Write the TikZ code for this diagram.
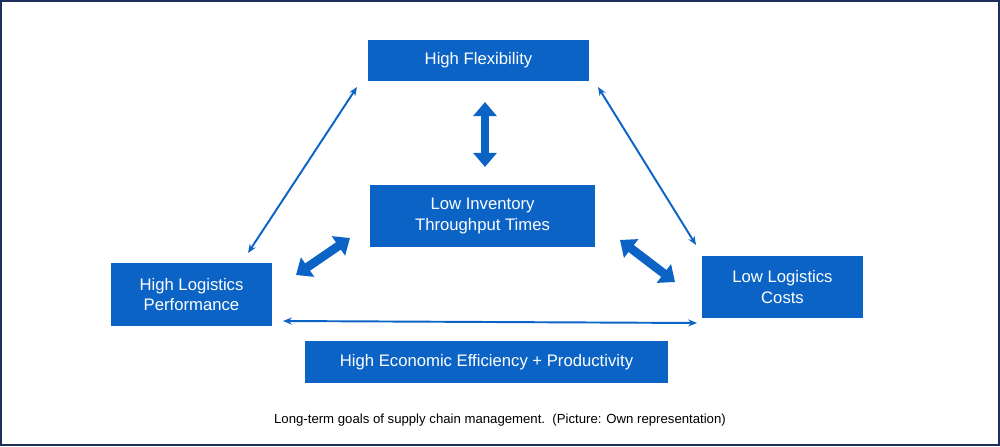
\documentclass[tikz,border=0pt]{standalone}
\usepackage{fontspec}
\setmainfont{Liberation Sans}
\usetikzlibrary{arrows.meta,positioning}
\definecolor{goalblue}{HTML}{0B63C5}
\definecolor{framenavy}{HTML}{1F2F5C}

\begin{document}
\begin{tikzpicture}[
    x=0.02cm, y=-0.02cm,
    every node/.style={font=\fontsize{9.5}{11.5}\selectfont},
    goal/.style={
        rectangle,
        fill=goalblue,
        text=white,
        inner sep=0pt,
        align=center
    },
    thinlink/.style={<->, >={Stealth[length=5pt,width=4pt]}, goalblue, line width=1.1pt},
    thicklink/.style={{Triangle[length=8pt,width=13pt]}-{Triangle[length=8pt,width=13pt]}, goalblue, line width=5pt}
]

% Frame
\draw[framenavy, line width=0.8pt] (1,1) rectangle (999,445);
\useasboundingbox (0,0) rectangle (1000,446);

% Goals
\node[goal, minimum width=4.42cm, minimum height=0.82cm] (flex) at (478.5,60.5) {High Flexibility};
\node[goal, minimum width=4.5cm, minimum height=1.24cm] (inv) at (482.5,216) {Low Inventory\\Throughput Times};
\node[goal, minimum width=3.22cm, minimum height=1.26cm] (perf) at (191.5,294.5) {High Logistics\\Performance};
\node[goal, minimum width=3.22cm, minimum height=1.24cm] (cost) at (782.5,287) {Low Logistics\\Costs};
\node[goal, minimum width=7.26cm, minimum height=0.84cm] (eff) at (486.5,362) {High Economic Efficiency + Productivity};

% Caption
\node[font=\fontsize{7.5}{9}\selectfont] (cap) at (500,420) {Long-term goals of supply chain management.\ \ (Picture: Own representation)};

% Outer links
\coordinate (flexL) at (357,87);
\coordinate (perfT) at (248,253);
\coordinate (flexR) at (598,87);
\coordinate (costT) at (696,245);
\coordinate (perfR) at (283,321);
\coordinate (costL) at (697,323);
\draw[thinlink] (flexL) -- (perfT);
\draw[thinlink] (flexR) -- (costT);
\draw[thinlink] (perfR) -- (costL);

% Inner links
\coordinate (flexB) at (485,102);
\coordinate (invT) at (485,167);
\coordinate (perfI) at (296,275);
\coordinate (invL) at (350,238);
\coordinate (invR) at (620,240);
\coordinate (costI) at (675,282);
\draw[thicklink] (flexB) -- (invT);
\draw[thicklink] (perfI) -- (invL);
\draw[thicklink] (invR) -- (costI);

\end{tikzpicture}
\end{document}
